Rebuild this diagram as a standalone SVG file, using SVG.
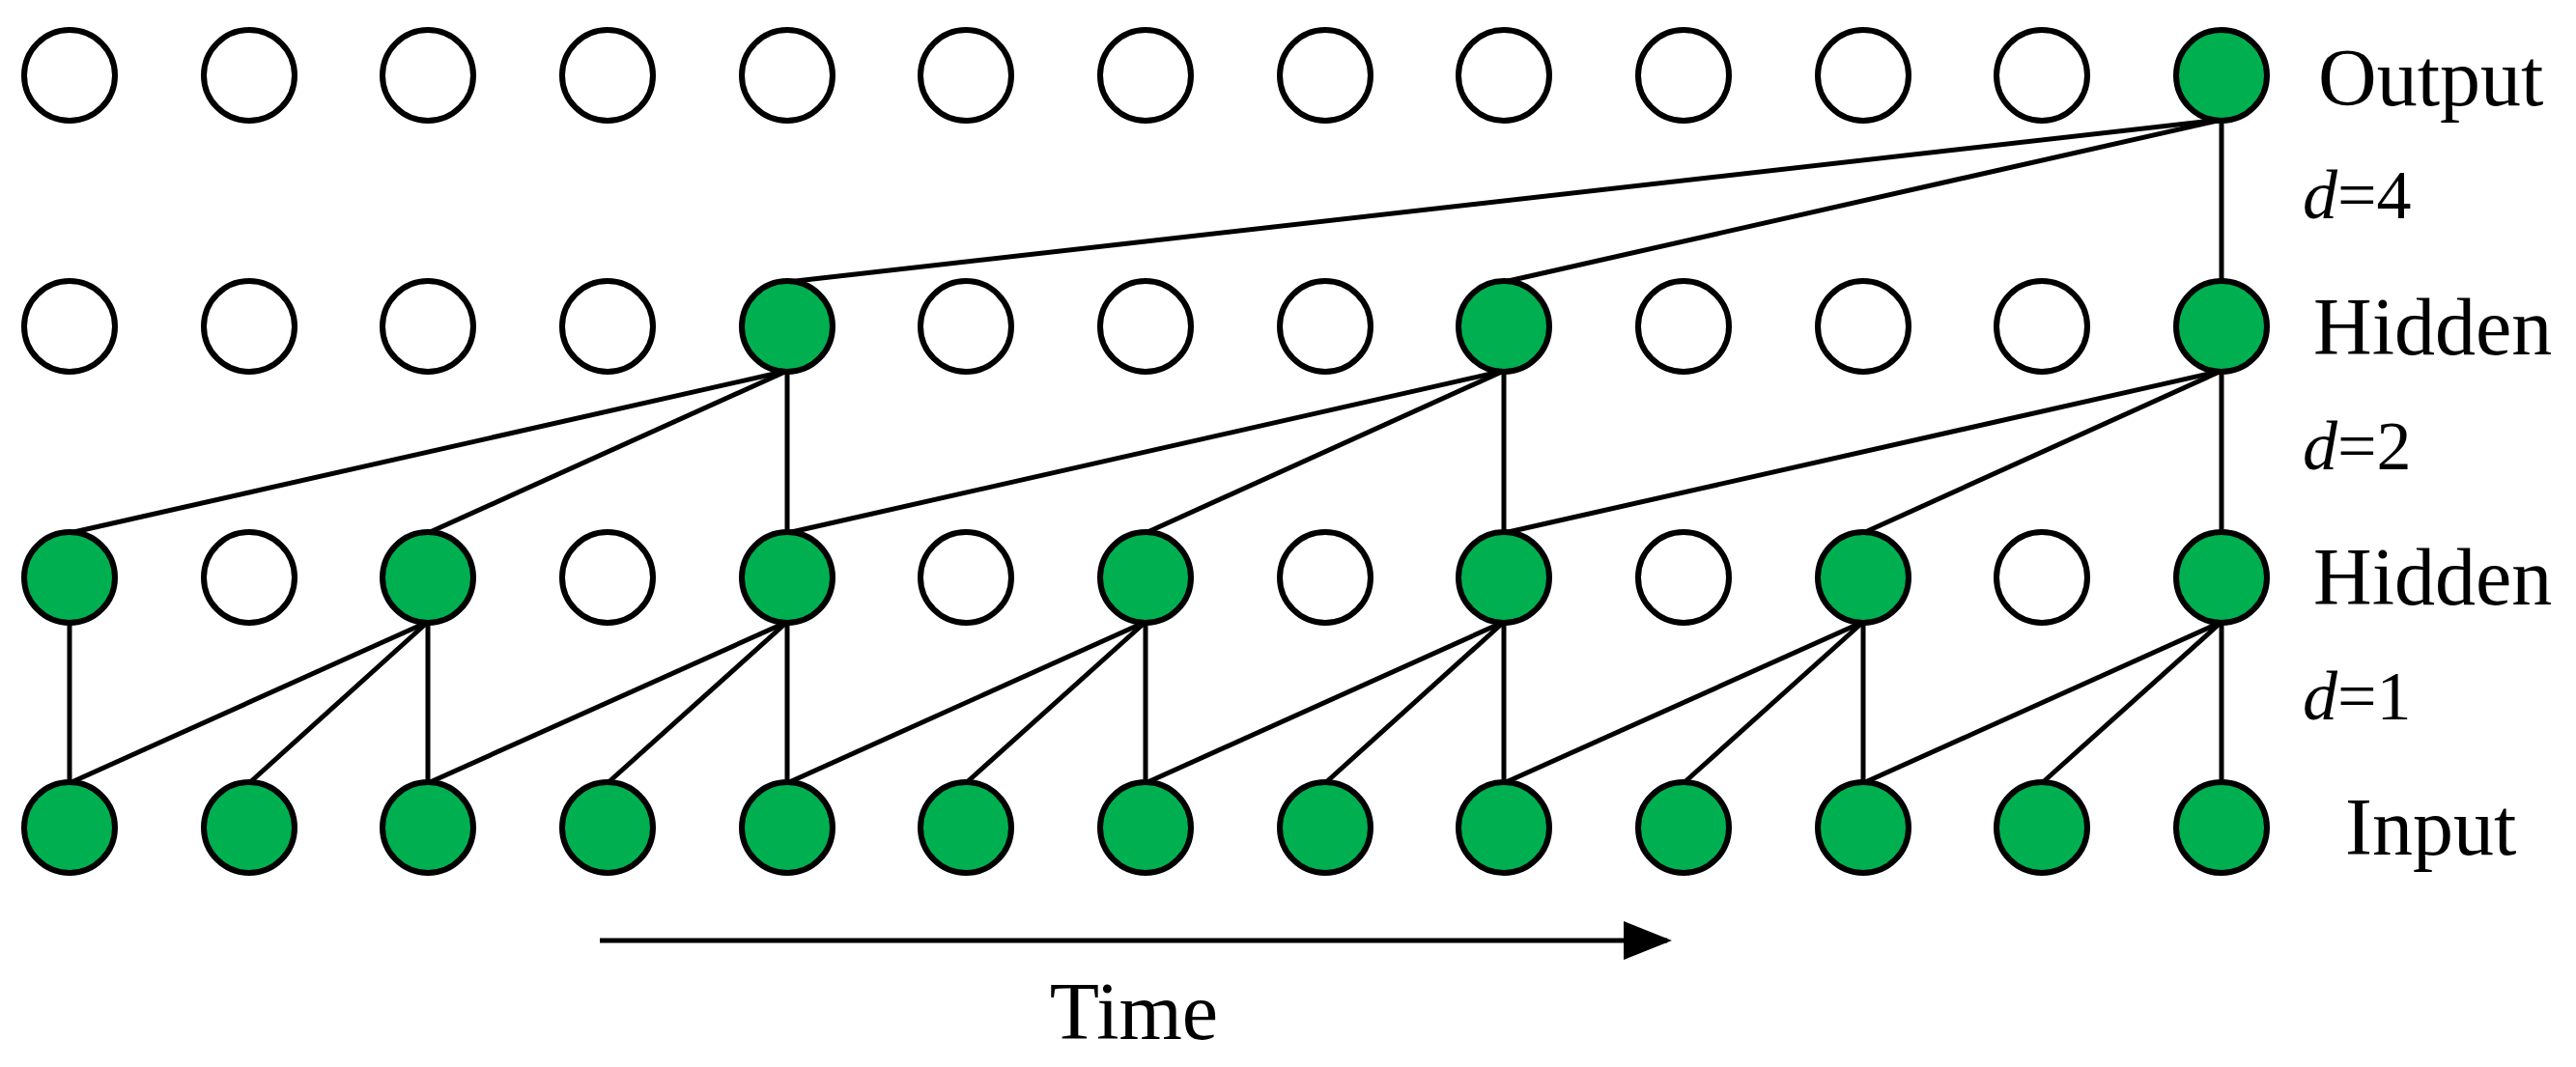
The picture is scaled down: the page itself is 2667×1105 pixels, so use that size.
<svg xmlns="http://www.w3.org/2000/svg" width="2667" height="1105" viewBox="0 0 2667 1105">
<style>
.e{fill:#fff;stroke:#000;stroke-width:6}
.g{fill:#00B050;stroke:#000;stroke-width:6}
.c line{stroke:#000;stroke-width:5}
.t{font-family:"Liberation Serif",serif;font-size:84px;fill:#000}
.d{font-family:"Liberation Serif",serif;font-size:72px;fill:#000}
</style>
<defs><marker id="ah" markerWidth="10" markerHeight="8" refX="9" refY="4" orient="auto" markerUnits="strokeWidth"><path d="M0,0L10,4L0,8z" fill="#000"/></marker></defs>
<g id="connectors" class="c">
<line x1="2300" y1="124" x2="815" y2="292"/><line x1="2300" y1="124" x2="1557" y2="292"/><line x1="2300" y1="124" x2="2300" y2="292"/>
<line x1="815" y1="384" x2="72" y2="552"/><line x1="815" y1="384" x2="443" y2="552"/><line x1="815" y1="384" x2="815" y2="552"/>
<line x1="1557" y1="384" x2="815" y2="552"/><line x1="1557" y1="384" x2="1186" y2="552"/><line x1="1557" y1="384" x2="1557" y2="552"/>
<line x1="2300" y1="384" x2="1557" y2="552"/><line x1="2300" y1="384" x2="1929" y2="552"/><line x1="2300" y1="384" x2="2300" y2="552"/>
<line x1="72" y1="644" x2="72" y2="811"/>
<line x1="443" y1="644" x2="72" y2="811"/><line x1="443" y1="644" x2="258" y2="811"/><line x1="443" y1="644" x2="443" y2="811"/>
<line x1="815" y1="644" x2="443" y2="811"/><line x1="815" y1="644" x2="629" y2="811"/><line x1="815" y1="644" x2="815" y2="811"/>
<line x1="1186" y1="644" x2="815" y2="811"/><line x1="1186" y1="644" x2="1000" y2="811"/><line x1="1186" y1="644" x2="1186" y2="811"/>
<line x1="1557" y1="644" x2="1186" y2="811"/><line x1="1557" y1="644" x2="1372" y2="811"/><line x1="1557" y1="644" x2="1557" y2="811"/>
<line x1="1929" y1="644" x2="1557" y2="811"/><line x1="1929" y1="644" x2="1743" y2="811"/><line x1="1929" y1="644" x2="1929" y2="811"/>
<line x1="2300" y1="644" x2="1929" y2="811"/><line x1="2300" y1="644" x2="2114" y2="811"/><line x1="2300" y1="644" x2="2300" y2="811"/>
<line x1="621" y1="974" x2="1726" y2="974" marker-end="url(#ah)"/>
</g>
<g id="output-row">
<circle class="e" cx="72" cy="78" r="47"/><circle class="e" cx="258" cy="78" r="47"/><circle class="e" cx="443" cy="78" r="47"/><circle class="e" cx="629" cy="78" r="47"/><circle class="e" cx="815" cy="78" r="47"/><circle class="e" cx="1000" cy="78" r="47"/><circle class="e" cx="1186" cy="78" r="47"/><circle class="e" cx="1372" cy="78" r="47"/><circle class="e" cx="1557" cy="78" r="47"/><circle class="e" cx="1743" cy="78" r="47"/><circle class="e" cx="1929" cy="78" r="47"/><circle class="e" cx="2114" cy="78" r="47"/><circle class="g" cx="2300" cy="78" r="47"/>
</g>
<g id="hidden2-row">
<circle class="e" cx="72" cy="338" r="47"/><circle class="e" cx="258" cy="338" r="47"/><circle class="e" cx="443" cy="338" r="47"/><circle class="e" cx="629" cy="338" r="47"/><circle class="g" cx="815" cy="338" r="47"/><circle class="e" cx="1000" cy="338" r="47"/><circle class="e" cx="1186" cy="338" r="47"/><circle class="e" cx="1372" cy="338" r="47"/><circle class="g" cx="1557" cy="338" r="47"/><circle class="e" cx="1743" cy="338" r="47"/><circle class="e" cx="1929" cy="338" r="47"/><circle class="e" cx="2114" cy="338" r="47"/><circle class="g" cx="2300" cy="338" r="47"/>
</g>
<g id="hidden1-row">
<circle class="g" cx="72" cy="598" r="47"/><circle class="e" cx="258" cy="598" r="47"/><circle class="g" cx="443" cy="598" r="47"/><circle class="e" cx="629" cy="598" r="47"/><circle class="g" cx="815" cy="598" r="47"/><circle class="e" cx="1000" cy="598" r="47"/><circle class="g" cx="1186" cy="598" r="47"/><circle class="e" cx="1372" cy="598" r="47"/><circle class="g" cx="1557" cy="598" r="47"/><circle class="e" cx="1743" cy="598" r="47"/><circle class="g" cx="1929" cy="598" r="47"/><circle class="e" cx="2114" cy="598" r="47"/><circle class="g" cx="2300" cy="598" r="47"/>
</g>
<g id="input-row">
<circle class="g" cx="72" cy="857" r="47"/><circle class="g" cx="258" cy="857" r="47"/><circle class="g" cx="443" cy="857" r="47"/><circle class="g" cx="629" cy="857" r="47"/><circle class="g" cx="815" cy="857" r="47"/><circle class="g" cx="1000" cy="857" r="47"/><circle class="g" cx="1186" cy="857" r="47"/><circle class="g" cx="1372" cy="857" r="47"/><circle class="g" cx="1557" cy="857" r="47"/><circle class="g" cx="1743" cy="857" r="47"/><circle class="g" cx="1929" cy="857" r="47"/><circle class="g" cx="2114" cy="857" r="47"/><circle class="g" cx="2300" cy="857" r="47"/>
</g>
<g id="labels">
<text class="t" x="2400" y="109">Output</text>
<text class="t" x="2395" y="367">Hidden</text>
<text class="t" x="2395" y="626">Hidden</text>
<text class="t" x="2428" y="885">Input</text>
<text class="d" x="2384" y="226"><tspan font-style="italic">d</tspan>=4</text>
<text class="d" x="2384" y="486"><tspan font-style="italic">d</tspan>=2</text>
<text class="d" x="2384" y="745"><tspan font-style="italic">d</tspan>=1</text>
<text class="t" x="1174" y="1076" text-anchor="middle">Time</text>
</g>
</svg>
